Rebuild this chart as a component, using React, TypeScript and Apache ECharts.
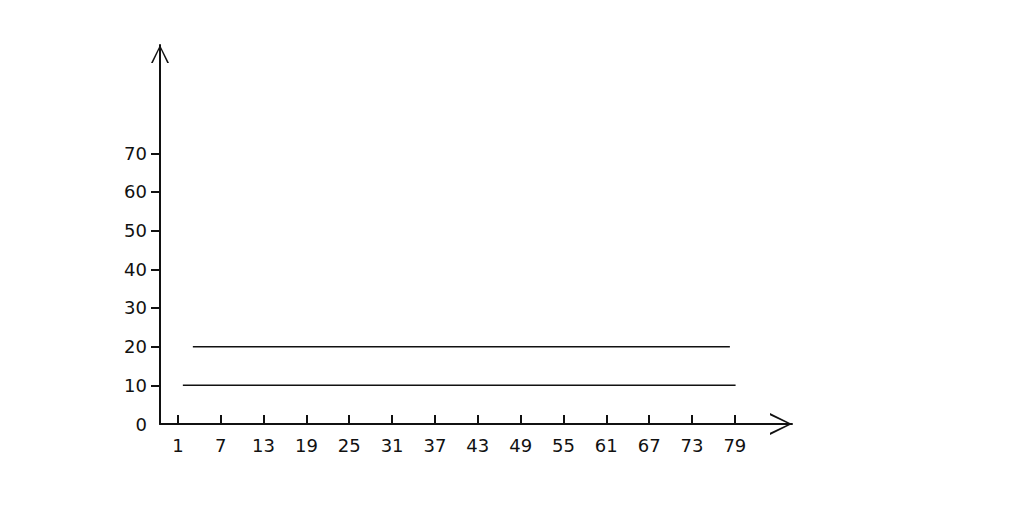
import React, { useEffect, useRef } from "react";
import * as echarts from "echarts";

const xTicks = [1, 7, 13, 19, 25, 31, 37, 43, 49, 55, 61, 67, 73, 79];
const yTicks = [0, 10, 20, 30, 40, 50, 60, 70];
const upperLine: [number, number][] = [
  [3.1, 20],
  [78.3, 20],
];
const lowerLine: [number, number][] = [
  [1.7, 10],
  [79.1, 10],
];

const chevron = "path://M0,20 L10,0 L20,20 L18,20 L10,3 L2,20 Z";

export default function App() {
  const ref = useRef<HTMLDivElement>(null);
  useEffect(() => {
    if (!ref.current) return;
    const chart = echarts.init(ref.current, undefined, { renderer: "svg" });
    chart.setOption({
      animation: false,
      backgroundColor: "#fff",
      grid: { left: 160, right: 232, top: 45, bottom: 88 },
      xAxis: {
        type: "value",
        min: -1.5,
        max: 87,
        splitLine: { show: false },
        axisLine: {
          show: true,
          onZero: false,
          lineStyle: { color: "#111", width: 2 },
          symbol: ["none", chevron],
          symbolSize: [22, 22],
          symbolOffset: [0, -11],
        },
        axisTick: {
          show: true,
          inside: true,
          length: 9,
          customValues: xTicks,
          lineStyle: { color: "#111", width: 2 },
        },
        axisLabel: {
          show: true,
          customValues: xTicks,
          margin: 12,
          color: "#111",
          fontSize: 18,
          fontFamily: "DejaVu Sans",
        },
      },
      yAxis: {
        type: "value",
        min: 0,
        max: 98,
        splitLine: { show: false },
        axisLine: {
          show: true,
          onZero: false,
          lineStyle: { color: "#111", width: 2 },
          symbol: ["none", chevron],
          symbolSize: [20, 18],
          symbolOffset: [0, -9],
        },
        axisTick: {
          show: true,
          length: 9,
          customValues: yTicks.filter((v) => v > 0),
          lineStyle: { color: "#111", width: 2 },
        },
        axisLabel: {
          show: true,
          customValues: yTicks,
          margin: 13,
          color: "#111",
          fontSize: 18,
          fontFamily: "DejaVu Sans",
        },
      },
      series: [
        {
          type: "line",
          data: upperLine,
          showSymbol: false,
          symbol: "none",
          lineStyle: { color: "#111", width: 1.5 },
        },
        {
          type: "line",
          data: lowerLine,
          showSymbol: false,
          symbol: "none",
          lineStyle: { color: "#111", width: 1.5 },
        },
      ],
    });
    return () => chart.dispose();
  }, []);
  return (
    <div
      ref={ref}
      style={{ position: "fixed", top: 0, left: 0, width: 1024, height: 512, background: "#fff" }}
    />
  );
}
